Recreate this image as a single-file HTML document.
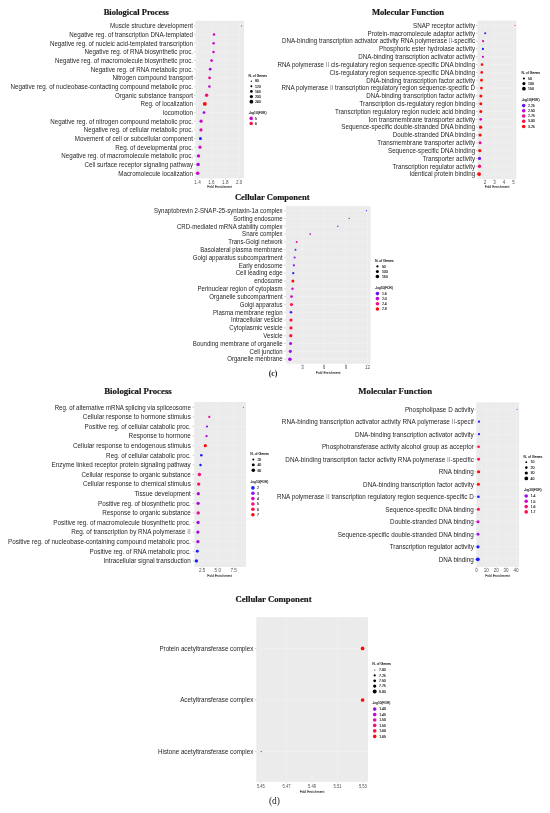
<!DOCTYPE html>
<html lang="en">
<head>
<meta charset="utf-8">
<title>GO enrichment dot plots</title>
<style>
html,body{margin:0;padding:0;background:#fff;}
body{width:550px;height:813px;overflow:hidden;}
svg{display:block;font-family:"Liberation Sans",sans-serif;}
svg .sf{font-family:"Liberation Serif",serif;}
</style>
</head>
<body>
<svg width="550" height="813" viewBox="0 0 550 813">
<rect x="0" y="0" width="550" height="813" fill="#fff"/>
<g>
<text x="136.30" y="14.50" font-size="8.5" text-anchor="middle" fill="#151515" stroke="#151515" stroke-width="0.18" class="sf" font-weight="bold">Biological Process</text>
<rect x="195.5" y="20.8" width="48.50" height="157.60" fill="#ebebeb"/>
<path d="M195.5 25.90H244.0M195.5 34.56H244.0M195.5 43.23H244.0M195.5 51.89H244.0M195.5 60.56H244.0M195.5 69.22H244.0M195.5 77.89H244.0M195.5 86.55H244.0M195.5 95.22H244.0M195.5 103.88H244.0M195.5 112.55H244.0M195.5 121.22H244.0M195.5 129.88H244.0M195.5 138.54H244.0M195.5 147.21H244.0M195.5 155.88H244.0M195.5 164.54H244.0M195.5 173.20H244.0M197.50 20.8V178.4M211.40 20.8V178.4M225.30 20.8V178.4M239.20 20.8V178.4" stroke="#fff" stroke-width="0.4" fill="none" opacity="0.6"/>
<path d="M204.45 20.8V178.4M218.35 20.8V178.4M232.25 20.8V178.4" stroke="#fff" stroke-width="0.22" fill="none" opacity="0.5"/>
<path d="M194.00 25.90H195.5M194.00 34.56H195.5M194.00 43.23H195.5M194.00 51.89H195.5M194.00 60.56H195.5M194.00 69.22H195.5M194.00 77.89H195.5M194.00 86.55H195.5M194.00 95.22H195.5M194.00 103.88H195.5M194.00 112.55H195.5M194.00 121.22H195.5M194.00 129.88H195.5M194.00 138.54H195.5M194.00 147.21H195.5M194.00 155.88H195.5M194.00 164.54H195.5M194.00 173.20H195.5" stroke="#6a6a6a" stroke-width="0.35" fill="none"/>
<path d="M197.50 178.4V179.70M211.40 178.4V179.70M225.30 178.4V179.70M239.20 178.4V179.70" stroke="#888" stroke-width="0.3" fill="none"/>
<text transform="translate(193.00,28.21) scale(0.957,1)" font-size="6.5" text-anchor="end" fill="#262626">Muscle structure development</text>
<circle cx="241.60" cy="25.90" r="0.55" fill="#f41078"/>
<text transform="translate(193.00,36.87) scale(0.957,1)" font-size="6.5" text-anchor="end" fill="#262626">Negative reg. of transcription DNA-templated</text>
<circle cx="214.00" cy="34.56" r="1.25" fill="#cc08c6"/>
<text transform="translate(193.00,45.54) scale(0.957,1)" font-size="6.5" text-anchor="end" fill="#262626">Negative reg. of nucleic acid-templated transcription</text>
<circle cx="213.60" cy="43.23" r="1.25" fill="#cc08c6"/>
<text transform="translate(193.00,54.20) scale(0.957,1)" font-size="6.5" text-anchor="end" fill="#262626">Negative reg. of RNA biosynthetic proc.</text>
<circle cx="213.50" cy="51.89" r="1.25" fill="#cc08c6"/>
<text transform="translate(193.00,62.87) scale(0.957,1)" font-size="6.5" text-anchor="end" fill="#262626">Negative reg. of macromolecule biosynthetic proc.</text>
<circle cx="211.60" cy="60.56" r="1.4" fill="#cc08c6"/>
<text transform="translate(193.00,71.53) scale(0.957,1)" font-size="6.5" text-anchor="end" fill="#262626">Negative reg. of RNA metabolic proc.</text>
<circle cx="210.20" cy="69.22" r="1.4" fill="#a808dc"/>
<text transform="translate(193.00,80.20) scale(0.957,1)" font-size="6.5" text-anchor="end" fill="#262626">Nitrogen compound transport</text>
<circle cx="209.60" cy="77.89" r="1.4" fill="#e40c9c"/>
<text transform="translate(193.00,88.86) scale(0.957,1)" font-size="6.5" text-anchor="end" fill="#262626">Negative reg. of nucleobase-contacting compound metabolic proc.</text>
<circle cx="209.40" cy="86.55" r="1.3" fill="#bc08d2"/>
<text transform="translate(193.00,97.53) scale(0.957,1)" font-size="6.5" text-anchor="end" fill="#262626">Organic substance transport</text>
<circle cx="206.60" cy="95.22" r="1.7" fill="#f41078"/>
<text transform="translate(193.00,106.19) scale(0.957,1)" font-size="6.5" text-anchor="end" fill="#262626">Reg. of localization</text>
<circle cx="204.80" cy="103.88" r="1.95" fill="#ff0a0a"/>
<text transform="translate(193.00,114.86) scale(0.957,1)" font-size="6.5" text-anchor="end" fill="#262626">locomotion</text>
<circle cx="204.00" cy="112.55" r="1.4" fill="#a808dc"/>
<text transform="translate(193.00,123.52) scale(0.957,1)" font-size="6.5" text-anchor="end" fill="#262626">Negative reg. of nitrogen compound metabolic proc.</text>
<circle cx="201.10" cy="121.22" r="1.6" fill="#cc08c6"/>
<text transform="translate(193.00,132.19) scale(0.957,1)" font-size="6.5" text-anchor="end" fill="#262626">Negative reg. of cellular metabolic proc.</text>
<circle cx="201.00" cy="129.88" r="1.6" fill="#d40cb4"/>
<text transform="translate(193.00,140.85) scale(0.957,1)" font-size="6.5" text-anchor="end" fill="#262626">Movement of cell or subcellular component</text>
<circle cx="200.40" cy="138.54" r="1.5" fill="#1a1aff"/>
<text transform="translate(193.00,149.52) scale(0.957,1)" font-size="6.5" text-anchor="end" fill="#262626">Reg. of developmental proc.</text>
<circle cx="200.00" cy="147.21" r="1.6" fill="#cc08c6"/>
<text transform="translate(193.00,158.18) scale(0.957,1)" font-size="6.5" text-anchor="end" fill="#262626">Negative reg. of macromolecule metabolic proc.</text>
<circle cx="198.50" cy="155.88" r="1.7" fill="#cc08c6"/>
<text transform="translate(193.00,166.85) scale(0.957,1)" font-size="6.5" text-anchor="end" fill="#262626">Cell surface receptor signaling pathway</text>
<circle cx="198.10" cy="164.54" r="1.7" fill="#a808dc"/>
<text transform="translate(193.00,175.51) scale(0.957,1)" font-size="6.5" text-anchor="end" fill="#262626">Macromolecule localization</text>
<circle cx="197.70" cy="173.20" r="1.75" fill="#cc08c6"/>
<text transform="translate(197.50,183.97) scale(0.92,1)" font-size="5.0" text-anchor="middle" fill="#505050">1.4</text>
<text transform="translate(211.40,183.97) scale(0.92,1)" font-size="5.0" text-anchor="middle" fill="#505050">1.6</text>
<text transform="translate(225.30,183.97) scale(0.92,1)" font-size="5.0" text-anchor="middle" fill="#505050">1.8</text>
<text transform="translate(239.20,183.97) scale(0.92,1)" font-size="5.0" text-anchor="middle" fill="#505050">2.0</text>
<text x="219.50" y="187.71" font-size="3.4" text-anchor="middle" fill="#1c1c1c" stroke="#1c1c1c" stroke-width="0.05">Fold Enrichment</text>
<text x="248.40" y="76.74" font-size="3.5" text-anchor="start" fill="#1c1c1c" stroke="#1c1c1c" stroke-width="0.12">N. of Genes</text>
<circle cx="251.40" cy="81.20" r="0.65" fill="#000"/>
<text x="254.90" y="82.44" font-size="3.5" text-anchor="start" fill="#1c1c1c" stroke="#1c1c1c" stroke-width="0.12">80</text>
<circle cx="251.40" cy="86.30" r="1.0" fill="#000"/>
<text x="254.90" y="87.54" font-size="3.5" text-anchor="start" fill="#1c1c1c" stroke="#1c1c1c" stroke-width="0.12">120</text>
<circle cx="251.40" cy="91.45" r="1.35" fill="#000"/>
<text x="254.90" y="92.69" font-size="3.5" text-anchor="start" fill="#1c1c1c" stroke="#1c1c1c" stroke-width="0.12">160</text>
<circle cx="251.40" cy="96.60" r="1.6" fill="#000"/>
<text x="254.90" y="97.84" font-size="3.5" text-anchor="start" fill="#1c1c1c" stroke="#1c1c1c" stroke-width="0.12">200</text>
<circle cx="251.40" cy="101.70" r="1.9" fill="#000"/>
<text x="254.90" y="102.94" font-size="3.5" text-anchor="start" fill="#1c1c1c" stroke="#1c1c1c" stroke-width="0.12">240</text>
<text transform="translate(248.70,113.74) scale(0.93,1)" font-size="3.5" text-anchor="start" fill="#1c1c1c" stroke="#1c1c1c" stroke-width="0.12">-log10(FDR)</text>
<circle cx="251.20" cy="118.40" r="1.8" fill="#cc08c6"/>
<text x="254.90" y="119.64" font-size="3.5" text-anchor="start" fill="#1c1c1c" stroke="#1c1c1c" stroke-width="0.12">5</text>
<circle cx="251.20" cy="123.50" r="1.8" fill="#ff1048"/>
<text x="254.90" y="124.74" font-size="3.5" text-anchor="start" fill="#1c1c1c" stroke="#1c1c1c" stroke-width="0.12">6</text>
</g>
<g>
<text x="408.00" y="14.50" font-size="8.55" text-anchor="middle" fill="#151515" stroke="#151515" stroke-width="0.18" class="sf" font-weight="bold">Molecular Function</text>
<rect x="477.5" y="20.6" width="38.90" height="158.40" fill="#ebebeb"/>
<path d="M477.5 25.50H516.4M477.5 33.32H516.4M477.5 41.14H516.4M477.5 48.96H516.4M477.5 56.78H516.4M477.5 64.60H516.4M477.5 72.42H516.4M477.5 80.24H516.4M477.5 88.06H516.4M477.5 95.88H516.4M477.5 103.70H516.4M477.5 111.52H516.4M477.5 119.34H516.4M477.5 127.16H516.4M477.5 134.98H516.4M477.5 142.80H516.4M477.5 150.62H516.4M477.5 158.44H516.4M477.5 166.26H516.4M477.5 174.08H516.4M485.10 20.6V179.0M494.60 20.6V179.0M504.00 20.6V179.0M513.40 20.6V179.0" stroke="#fff" stroke-width="0.4" fill="none" opacity="0.6"/>
<path d="M480.35 20.6V179.0M489.85 20.6V179.0M499.35 20.6V179.0M508.85 20.6V179.0" stroke="#fff" stroke-width="0.22" fill="none" opacity="0.5"/>
<path d="M476.00 25.50H477.5M476.00 33.32H477.5M476.00 41.14H477.5M476.00 48.96H477.5M476.00 56.78H477.5M476.00 64.60H477.5M476.00 72.42H477.5M476.00 80.24H477.5M476.00 88.06H477.5M476.00 95.88H477.5M476.00 103.70H477.5M476.00 111.52H477.5M476.00 119.34H477.5M476.00 127.16H477.5M476.00 134.98H477.5M476.00 142.80H477.5M476.00 150.62H477.5M476.00 158.44H477.5M476.00 166.26H477.5M476.00 174.08H477.5" stroke="#6a6a6a" stroke-width="0.35" fill="none"/>
<path d="M485.10 179.0V180.30M494.60 179.0V180.30M504.00 179.0V180.30M513.40 179.0V180.30" stroke="#888" stroke-width="0.3" fill="none"/>
<text transform="translate(475.10,27.81) scale(0.957,1)" font-size="6.5" text-anchor="end" fill="#262626">SNAP receptor activity</text>
<circle cx="514.90" cy="25.50" r="0.55" fill="#f41078"/>
<text transform="translate(475.10,35.63) scale(0.957,1)" font-size="6.5" text-anchor="end" fill="#262626">Protein-macromolecule adaptor activity</text>
<circle cx="485.20" cy="33.32" r="1.0" fill="#1a1aff"/>
<text transform="translate(475.10,43.45) scale(0.957,1)" font-size="6.5" text-anchor="end" fill="#262626">DNA-binding transcription activator activity RNA polymerase <tspan fill="#7a7a7a">II</tspan>-specific</text>
<circle cx="483.10" cy="41.14" r="1.1" fill="#e40c9c"/>
<text transform="translate(475.10,51.27) scale(0.957,1)" font-size="6.5" text-anchor="end" fill="#262626">Phosphoric ester hydrolase activity</text>
<circle cx="482.90" cy="48.96" r="1.1" fill="#1a1aff"/>
<text transform="translate(475.10,59.09) scale(0.957,1)" font-size="6.5" text-anchor="end" fill="#262626">DNA-binding transcription activator activity</text>
<circle cx="482.90" cy="56.78" r="1.1" fill="#cc08c6"/>
<text transform="translate(475.10,66.91) scale(0.957,1)" font-size="6.5" text-anchor="end" fill="#262626">RNA polymerase <tspan fill="#7a7a7a">II</tspan> cis-regulatory region sequence-specific DNA binding</text>
<circle cx="482.00" cy="64.60" r="1.3" fill="#ff0a0a"/>
<text transform="translate(475.10,74.73) scale(0.957,1)" font-size="6.5" text-anchor="end" fill="#262626">Cis-regulatory region sequence-specific DNA binding</text>
<circle cx="481.70" cy="72.42" r="1.3" fill="#ff0a0a"/>
<text transform="translate(475.10,82.55) scale(0.957,1)" font-size="6.5" text-anchor="end" fill="#262626">DNA-binding transcription factor activity</text>
<circle cx="481.50" cy="80.24" r="1.4" fill="#ff0a0a"/>
<text transform="translate(475.10,90.37) scale(0.957,1)" font-size="6.5" text-anchor="end" fill="#262626">RNA polymerase <tspan fill="#7a7a7a">II</tspan> transcription regulatory region sequence-specific D</text>
<circle cx="481.40" cy="88.06" r="1.4" fill="#ff0a0a"/>
<text transform="translate(475.10,98.19) scale(0.957,1)" font-size="6.5" text-anchor="end" fill="#262626">DNA-binding transcription factor activity</text>
<circle cx="480.90" cy="95.88" r="1.5" fill="#ff0a0a"/>
<text transform="translate(475.10,106.01) scale(0.957,1)" font-size="6.5" text-anchor="end" fill="#262626">Transcription cis-regulatory region binding</text>
<circle cx="480.80" cy="103.70" r="1.5" fill="#ff0a0a"/>
<text transform="translate(475.10,113.83) scale(0.957,1)" font-size="6.5" text-anchor="end" fill="#262626">Transcription regulatory region nucleic acid binding</text>
<circle cx="480.80" cy="111.52" r="1.5" fill="#ff0a0a"/>
<text transform="translate(475.10,121.65) scale(0.957,1)" font-size="6.5" text-anchor="end" fill="#262626">Ion transmembrane transporter activity</text>
<circle cx="480.70" cy="119.34" r="1.3" fill="#cc08c6"/>
<text transform="translate(475.10,129.47) scale(0.957,1)" font-size="6.5" text-anchor="end" fill="#262626">Sequence-specific double-stranded DNA binding</text>
<circle cx="480.60" cy="127.16" r="1.6" fill="#ff0a0a"/>
<text transform="translate(475.10,137.29) scale(0.957,1)" font-size="6.5" text-anchor="end" fill="#262626">Double-stranded DNA binding</text>
<circle cx="480.10" cy="134.98" r="1.6" fill="#ff0a0a"/>
<text transform="translate(475.10,145.11) scale(0.957,1)" font-size="6.5" text-anchor="end" fill="#262626">Transmembrane transporter activity</text>
<circle cx="480.10" cy="142.80" r="1.5" fill="#e40c9c"/>
<text transform="translate(475.10,152.93) scale(0.957,1)" font-size="6.5" text-anchor="end" fill="#262626">Sequence-specific DNA binding</text>
<circle cx="479.80" cy="150.62" r="1.6" fill="#ff0a0a"/>
<text transform="translate(475.10,160.75) scale(0.957,1)" font-size="6.5" text-anchor="end" fill="#262626">Transporter activity</text>
<circle cx="479.50" cy="158.44" r="1.6" fill="#6a14f6"/>
<text transform="translate(475.10,168.57) scale(0.957,1)" font-size="6.5" text-anchor="end" fill="#262626">Transcription regulator activity</text>
<circle cx="479.50" cy="166.26" r="1.7" fill="#f41078"/>
<text transform="translate(475.10,176.39) scale(0.957,1)" font-size="6.5" text-anchor="end" fill="#262626">Identical protein binding</text>
<circle cx="479.10" cy="174.08" r="1.9" fill="#ff0a0a"/>
<text transform="translate(485.10,183.58) scale(0.92,1)" font-size="5.0" text-anchor="middle" fill="#505050">2</text>
<text transform="translate(494.60,183.58) scale(0.92,1)" font-size="5.0" text-anchor="middle" fill="#505050">3</text>
<text transform="translate(504.00,183.58) scale(0.92,1)" font-size="5.0" text-anchor="middle" fill="#505050">4</text>
<text transform="translate(513.40,183.58) scale(0.92,1)" font-size="5.0" text-anchor="middle" fill="#505050">5</text>
<text x="497.00" y="187.91" font-size="3.4" text-anchor="middle" fill="#1c1c1c" stroke="#1c1c1c" stroke-width="0.05">Fold Enrichment</text>
<text x="521.40" y="73.94" font-size="3.5" text-anchor="start" fill="#1c1c1c" stroke="#1c1c1c" stroke-width="0.12">N. of Genes</text>
<circle cx="523.90" cy="78.50" r="1.1" fill="#000"/>
<text x="528.00" y="79.74" font-size="3.5" text-anchor="start" fill="#1c1c1c" stroke="#1c1c1c" stroke-width="0.12">50</text>
<circle cx="523.90" cy="83.60" r="1.55" fill="#000"/>
<text x="528.00" y="84.84" font-size="3.5" text-anchor="start" fill="#1c1c1c" stroke="#1c1c1c" stroke-width="0.12">100</text>
<circle cx="523.90" cy="88.70" r="1.85" fill="#000"/>
<text x="528.00" y="89.94" font-size="3.5" text-anchor="start" fill="#1c1c1c" stroke="#1c1c1c" stroke-width="0.12">150</text>
<text transform="translate(521.70,101.14) scale(0.93,1)" font-size="3.5" text-anchor="start" fill="#1c1c1c" stroke="#1c1c1c" stroke-width="0.12">-log10(FDR)</text>
<circle cx="523.70" cy="105.60" r="1.8" fill="#6a14f6"/>
<text x="528.00" y="106.84" font-size="3.5" text-anchor="start" fill="#1c1c1c" stroke="#1c1c1c" stroke-width="0.12">2.25</text>
<circle cx="523.70" cy="110.80" r="1.8" fill="#bc08d2"/>
<text x="528.00" y="112.04" font-size="3.5" text-anchor="start" fill="#1c1c1c" stroke="#1c1c1c" stroke-width="0.12">2.50</text>
<circle cx="523.70" cy="116.00" r="1.8" fill="#e40c9c"/>
<text x="528.00" y="117.24" font-size="3.5" text-anchor="start" fill="#1c1c1c" stroke="#1c1c1c" stroke-width="0.12">2.75</text>
<circle cx="523.70" cy="121.20" r="1.8" fill="#ff1048"/>
<text x="528.00" y="122.44" font-size="3.5" text-anchor="start" fill="#1c1c1c" stroke="#1c1c1c" stroke-width="0.12">3.00</text>
<circle cx="523.70" cy="126.50" r="1.8" fill="#ff0a0a"/>
<text x="528.00" y="127.74" font-size="3.5" text-anchor="start" fill="#1c1c1c" stroke="#1c1c1c" stroke-width="0.12">3.25</text>
</g>
<g>
<text x="272.20" y="199.80" font-size="8.55" text-anchor="middle" fill="#151515" stroke="#151515" stroke-width="0.18" class="sf" font-weight="bold">Cellular Component</text>
<rect x="285.8" y="206.1" width="84.70" height="157.60" fill="#ebebeb"/>
<path d="M285.8 210.60H370.5M285.8 218.42H370.5M285.8 226.24H370.5M285.8 234.06H370.5M285.8 241.88H370.5M285.8 249.70H370.5M285.8 257.52H370.5M285.8 265.34H370.5M285.8 273.16H370.5M285.8 280.98H370.5M285.8 288.80H370.5M285.8 296.62H370.5M285.8 304.44H370.5M285.8 312.26H370.5M285.8 320.08H370.5M285.8 327.90H370.5M285.8 335.72H370.5M285.8 343.54H370.5M285.8 351.36H370.5M285.8 359.18H370.5M302.40 206.1V363.7M324.10 206.1V363.7M345.90 206.1V363.7M367.60 206.1V363.7" stroke="#fff" stroke-width="0.4" fill="none" opacity="0.6"/>
<path d="M291.55 206.1V363.7M313.25 206.1V363.7M334.95 206.1V363.7M356.65 206.1V363.7" stroke="#fff" stroke-width="0.22" fill="none" opacity="0.5"/>
<path d="M284.30 210.60H285.8M284.30 218.42H285.8M284.30 226.24H285.8M284.30 234.06H285.8M284.30 241.88H285.8M284.30 249.70H285.8M284.30 257.52H285.8M284.30 265.34H285.8M284.30 273.16H285.8M284.30 280.98H285.8M284.30 288.80H285.8M284.30 296.62H285.8M284.30 304.44H285.8M284.30 312.26H285.8M284.30 320.08H285.8M284.30 327.90H285.8M284.30 335.72H285.8M284.30 343.54H285.8M284.30 351.36H285.8M284.30 359.18H285.8" stroke="#6a6a6a" stroke-width="0.35" fill="none"/>
<path d="M302.40 363.7V365.00M324.10 363.7V365.00M345.90 363.7V365.00M367.60 363.7V365.00" stroke="#888" stroke-width="0.3" fill="none"/>
<text transform="translate(282.60,212.87) scale(0.95,1)" font-size="6.4" text-anchor="end" fill="#262626">Synaptobrevin 2-SNAP-25-syntaxin-1a complex</text>
<circle cx="366.50" cy="210.60" r="0.65" fill="#6a14f6"/>
<text transform="translate(282.60,220.69) scale(0.95,1)" font-size="6.4" text-anchor="end" fill="#262626">Sorting endosome</text>
<circle cx="349.20" cy="218.42" r="0.65" fill="#a808dc"/>
<text transform="translate(282.60,228.51) scale(0.95,1)" font-size="6.4" text-anchor="end" fill="#262626">CRD-mediated mRNA stability complex</text>
<circle cx="337.80" cy="226.24" r="0.68" fill="#6a14f6"/>
<text transform="translate(282.60,236.33) scale(0.95,1)" font-size="6.4" text-anchor="end" fill="#262626">Snare complex</text>
<circle cx="310.20" cy="234.06" r="0.85" fill="#cc08c6"/>
<text transform="translate(282.60,244.15) scale(0.95,1)" font-size="6.4" text-anchor="end" fill="#262626">Trans-Golgi network</text>
<circle cx="296.70" cy="241.88" r="1.0" fill="#e40c9c"/>
<text transform="translate(282.60,251.97) scale(0.95,1)" font-size="6.4" text-anchor="end" fill="#262626">Basolateral plasma membrane</text>
<circle cx="295.50" cy="249.70" r="1.0" fill="#6a14f6"/>
<text transform="translate(282.60,259.79) scale(0.95,1)" font-size="6.4" text-anchor="end" fill="#262626">Golgi apparatus subcompartment</text>
<circle cx="294.60" cy="257.52" r="1.05" fill="#9a12e4"/>
<text transform="translate(282.60,267.61) scale(0.95,1)" font-size="6.4" text-anchor="end" fill="#262626">Early endosome</text>
<circle cx="293.90" cy="265.34" r="1.15" fill="#9a12e4"/>
<text transform="translate(282.60,275.43) scale(0.95,1)" font-size="6.4" text-anchor="end" fill="#262626">Cell leading edge</text>
<circle cx="293.20" cy="273.16" r="1.1" fill="#1a1aff"/>
<text transform="translate(282.60,283.25) scale(0.95,1)" font-size="6.4" text-anchor="end" fill="#262626">endosome</text>
<circle cx="292.90" cy="280.98" r="1.5" fill="#ff0a0a"/>
<text transform="translate(282.60,291.07) scale(0.95,1)" font-size="6.4" text-anchor="end" fill="#262626">Perinuclear region of cytoplasm</text>
<circle cx="292.50" cy="288.80" r="1.2" fill="#cc08c6"/>
<text transform="translate(282.60,298.89) scale(0.95,1)" font-size="6.4" text-anchor="end" fill="#262626">Organelle subcompartment</text>
<circle cx="291.50" cy="296.62" r="1.35" fill="#cc08c6"/>
<text transform="translate(282.60,306.71) scale(0.95,1)" font-size="6.4" text-anchor="end" fill="#262626">Golgi apparatus</text>
<circle cx="291.50" cy="304.44" r="1.55" fill="#ff1048"/>
<text transform="translate(282.60,314.53) scale(0.95,1)" font-size="6.4" text-anchor="end" fill="#262626">Plasma membrane region</text>
<circle cx="291.00" cy="312.26" r="1.3" fill="#4a1cff"/>
<text transform="translate(282.60,322.35) scale(0.95,1)" font-size="6.4" text-anchor="end" fill="#262626">Intracellular vesicle</text>
<circle cx="291.00" cy="320.08" r="1.6" fill="#ff1048"/>
<text transform="translate(282.60,330.17) scale(0.95,1)" font-size="6.4" text-anchor="end" fill="#262626">Cytoplasmic vesicle</text>
<circle cx="291.00" cy="327.90" r="1.6" fill="#ff1048"/>
<text transform="translate(282.60,337.99) scale(0.95,1)" font-size="6.4" text-anchor="end" fill="#262626">Vesicle</text>
<circle cx="290.80" cy="335.72" r="1.65" fill="#ff1048"/>
<text transform="translate(282.60,345.81) scale(0.95,1)" font-size="6.4" text-anchor="end" fill="#262626">Bounding membrane of organelle</text>
<circle cx="290.60" cy="343.54" r="1.5" fill="#9a12e4"/>
<text transform="translate(282.60,353.63) scale(0.95,1)" font-size="6.4" text-anchor="end" fill="#262626">Cell junction</text>
<circle cx="290.30" cy="351.36" r="1.55" fill="#9a12e4"/>
<text transform="translate(282.60,361.45) scale(0.95,1)" font-size="6.4" text-anchor="end" fill="#262626">Organelle menbrane</text>
<circle cx="289.90" cy="359.18" r="1.8" fill="#a808dc"/>
<text transform="translate(302.40,369.38) scale(0.92,1)" font-size="5.0" text-anchor="middle" fill="#505050">3</text>
<text transform="translate(324.10,369.38) scale(0.92,1)" font-size="5.0" text-anchor="middle" fill="#505050">6</text>
<text transform="translate(345.90,369.38) scale(0.92,1)" font-size="5.0" text-anchor="middle" fill="#505050">9</text>
<text transform="translate(367.60,369.38) scale(0.92,1)" font-size="5.0" text-anchor="middle" fill="#505050">12</text>
<text x="328.20" y="373.51" font-size="3.4" text-anchor="middle" fill="#1c1c1c" stroke="#1c1c1c" stroke-width="0.05">Fold Enrichment</text>
<text x="374.90" y="262.14" font-size="3.5" text-anchor="start" fill="#1c1c1c" stroke="#1c1c1c" stroke-width="0.12">N. of Genes</text>
<circle cx="377.40" cy="266.40" r="1.1" fill="#000"/>
<text x="381.90" y="267.64" font-size="3.5" text-anchor="start" fill="#1c1c1c" stroke="#1c1c1c" stroke-width="0.12">50</text>
<circle cx="377.40" cy="271.40" r="1.5" fill="#000"/>
<text x="381.90" y="272.64" font-size="3.5" text-anchor="start" fill="#1c1c1c" stroke="#1c1c1c" stroke-width="0.12">100</text>
<circle cx="377.40" cy="276.50" r="1.8" fill="#000"/>
<text x="381.90" y="277.74" font-size="3.5" text-anchor="start" fill="#1c1c1c" stroke="#1c1c1c" stroke-width="0.12">150</text>
<text transform="translate(375.20,288.94) scale(0.93,1)" font-size="3.5" text-anchor="start" fill="#1c1c1c" stroke="#1c1c1c" stroke-width="0.12">-log10(FDR)</text>
<circle cx="377.40" cy="293.60" r="1.8" fill="#6a14f6"/>
<text x="381.90" y="294.84" font-size="3.5" text-anchor="start" fill="#1c1c1c" stroke="#1c1c1c" stroke-width="0.12">1.6</text>
<circle cx="377.40" cy="298.60" r="1.8" fill="#c008cc"/>
<text x="381.90" y="299.84" font-size="3.5" text-anchor="start" fill="#1c1c1c" stroke="#1c1c1c" stroke-width="0.12">2.0</text>
<circle cx="377.40" cy="303.80" r="1.8" fill="#f41078"/>
<text x="381.90" y="305.04" font-size="3.5" text-anchor="start" fill="#1c1c1c" stroke="#1c1c1c" stroke-width="0.12">2.4</text>
<circle cx="377.40" cy="309.00" r="1.8" fill="#ff0a0a"/>
<text x="381.90" y="310.24" font-size="3.5" text-anchor="start" fill="#1c1c1c" stroke="#1c1c1c" stroke-width="0.12">2.8</text>
</g>
<g>
<text x="138.00" y="393.90" font-size="8.8" text-anchor="middle" fill="#151515" stroke="#151515" stroke-width="0.18" class="sf" font-weight="bold">Biological Process</text>
<rect x="194.2" y="402.0" width="51.80" height="165.00" fill="#ebebeb"/>
<path d="M194.2 407.30H246.0M194.2 416.90H246.0M194.2 426.50H246.0M194.2 436.10H246.0M194.2 445.70H246.0M194.2 455.30H246.0M194.2 464.90H246.0M194.2 474.50H246.0M194.2 484.10H246.0M194.2 493.70H246.0M194.2 503.30H246.0M194.2 512.90H246.0M194.2 522.50H246.0M194.2 532.10H246.0M194.2 541.70H246.0M194.2 551.30H246.0M194.2 560.90H246.0M202.10 402.0V567.0M217.80 402.0V567.0M233.60 402.0V567.0" stroke="#fff" stroke-width="0.4" fill="none" opacity="0.6"/>
<path d="M194.25 402.0V567.0M209.95 402.0V567.0M225.65 402.0V567.0M241.35 402.0V567.0" stroke="#fff" stroke-width="0.22" fill="none" opacity="0.5"/>
<path d="M192.70 407.30H194.2M192.70 416.90H194.2M192.70 426.50H194.2M192.70 436.10H194.2M192.70 445.70H194.2M192.70 455.30H194.2M192.70 464.90H194.2M192.70 474.50H194.2M192.70 484.10H194.2M192.70 493.70H194.2M192.70 503.30H194.2M192.70 512.90H194.2M192.70 522.50H194.2M192.70 532.10H194.2M192.70 541.70H194.2M192.70 551.30H194.2M192.70 560.90H194.2" stroke="#6a6a6a" stroke-width="0.35" fill="none"/>
<path d="M202.10 567.0V568.30M217.80 567.0V568.30M233.60 567.0V568.30" stroke="#888" stroke-width="0.3" fill="none"/>
<text transform="translate(190.80,409.65) scale(0.9254189999999999,1)" font-size="6.62" text-anchor="end" fill="#262626">Reg. of alternative mRNA splicing via spliceosome</text>
<circle cx="243.30" cy="407.30" r="0.55" fill="#6a14f6"/>
<text transform="translate(190.80,419.25) scale(0.957,1)" font-size="6.62" text-anchor="end" fill="#262626">Cellular response to hormone stimulus</text>
<circle cx="209.30" cy="416.90" r="1.1" fill="#e40c9c"/>
<text transform="translate(190.80,428.85) scale(0.957,1)" font-size="6.62" text-anchor="end" fill="#262626">Positive reg. of cellular catabolic proc.</text>
<circle cx="207.00" cy="426.50" r="1.1" fill="#7a10f0"/>
<text transform="translate(190.80,438.45) scale(0.957,1)" font-size="6.62" text-anchor="end" fill="#262626">Response to hormone</text>
<circle cx="206.50" cy="436.10" r="1.2" fill="#a808dc"/>
<text transform="translate(190.80,448.05) scale(0.957,1)" font-size="6.62" text-anchor="end" fill="#262626">Cellular response to endogenous stimulus</text>
<circle cx="205.30" cy="445.70" r="1.6" fill="#ff0a0a"/>
<text transform="translate(190.80,457.65) scale(0.957,1)" font-size="6.62" text-anchor="end" fill="#262626">Reg. of cellular catabolic proc.</text>
<circle cx="201.30" cy="455.30" r="1.25" fill="#1a1aff"/>
<text transform="translate(190.80,467.25) scale(0.957,1)" font-size="6.62" text-anchor="end" fill="#262626">Enzyme linked receptor protein signaling pathway</text>
<circle cx="200.50" cy="464.90" r="1.25" fill="#1a1aff"/>
<text transform="translate(190.80,476.85) scale(0.957,1)" font-size="6.62" text-anchor="end" fill="#262626">Cellular response to organic substance</text>
<circle cx="199.40" cy="474.50" r="1.7" fill="#f41078"/>
<text transform="translate(190.80,486.45) scale(0.957,1)" font-size="6.62" text-anchor="end" fill="#262626">Cellular response to chemical stimulus</text>
<circle cx="198.70" cy="484.10" r="1.7" fill="#f80c6c"/>
<text transform="translate(190.80,496.05) scale(0.957,1)" font-size="6.62" text-anchor="end" fill="#262626">Tissue development</text>
<circle cx="198.30" cy="493.70" r="1.65" fill="#a808dc"/>
<text transform="translate(190.80,505.65) scale(0.957,1)" font-size="6.62" text-anchor="end" fill="#262626">Positive reg. of biosynthetic proc.</text>
<circle cx="198.10" cy="503.30" r="1.65" fill="#a808dc"/>
<text transform="translate(190.80,515.25) scale(0.957,1)" font-size="6.62" text-anchor="end" fill="#262626">Response to organic substance</text>
<circle cx="198.20" cy="512.90" r="1.7" fill="#e40c9c"/>
<text transform="translate(190.80,524.85) scale(0.957,1)" font-size="6.62" text-anchor="end" fill="#262626">Positive reg. of macromolecule biosynthetic proc.</text>
<circle cx="198.10" cy="522.50" r="1.65" fill="#a808dc"/>
<text transform="translate(190.80,534.45) scale(0.957,1)" font-size="6.62" text-anchor="end" fill="#262626">Reg. of transcription by RNA polymerase <tspan fill="#7a7a7a">II</tspan></text>
<circle cx="197.90" cy="532.10" r="1.65" fill="#a808dc"/>
<text transform="translate(190.80,544.05) scale(0.957,1)" font-size="6.62" text-anchor="end" fill="#262626">Positive reg. of nucleobase-containing compound metabolic proc.</text>
<circle cx="197.90" cy="541.70" r="1.65" fill="#a808dc"/>
<text transform="translate(190.80,553.65) scale(0.957,1)" font-size="6.62" text-anchor="end" fill="#262626">Positive reg. of RNA metabolic proc.</text>
<circle cx="197.30" cy="551.30" r="1.45" fill="#1a1aff"/>
<text transform="translate(190.80,563.25) scale(0.957,1)" font-size="6.62" text-anchor="end" fill="#262626">Intracellular signal transduction</text>
<circle cx="196.40" cy="560.90" r="1.7" fill="#1a1aff"/>
<text transform="translate(202.10,572.38) scale(0.92,1)" font-size="5.0" text-anchor="middle" fill="#505050">2.5</text>
<text transform="translate(217.80,572.38) scale(0.92,1)" font-size="5.0" text-anchor="middle" fill="#505050">5.0</text>
<text transform="translate(233.60,572.38) scale(0.92,1)" font-size="5.0" text-anchor="middle" fill="#505050">7.5</text>
<text x="219.60" y="576.61" font-size="3.4" text-anchor="middle" fill="#1c1c1c" stroke="#1c1c1c" stroke-width="0.05">Fold Enrichment</text>
<text x="250.20" y="454.94" font-size="3.5" text-anchor="start" fill="#1c1c1c" stroke="#1c1c1c" stroke-width="0.12">N. of Genes</text>
<circle cx="253.30" cy="459.60" r="1.0" fill="#000"/>
<text x="257.40" y="460.84" font-size="3.5" text-anchor="start" fill="#1c1c1c" stroke="#1c1c1c" stroke-width="0.12">20</text>
<circle cx="253.30" cy="464.90" r="1.45" fill="#000"/>
<text x="257.40" y="466.14" font-size="3.5" text-anchor="start" fill="#1c1c1c" stroke="#1c1c1c" stroke-width="0.12">40</text>
<circle cx="253.30" cy="470.30" r="1.8" fill="#000"/>
<text x="257.40" y="471.54" font-size="3.5" text-anchor="start" fill="#1c1c1c" stroke="#1c1c1c" stroke-width="0.12">60</text>
<text transform="translate(250.50,483.24) scale(0.93,1)" font-size="3.5" text-anchor="start" fill="#1c1c1c" stroke="#1c1c1c" stroke-width="0.12">-log10(FDR)</text>
<circle cx="252.90" cy="487.90" r="1.8" fill="#1a1aff"/>
<text x="256.90" y="489.14" font-size="3.5" text-anchor="start" fill="#1c1c1c" stroke="#1c1c1c" stroke-width="0.12">2</text>
<circle cx="252.90" cy="493.30" r="1.8" fill="#9a12e4"/>
<text x="256.90" y="494.54" font-size="3.5" text-anchor="start" fill="#1c1c1c" stroke="#1c1c1c" stroke-width="0.12">3</text>
<circle cx="252.90" cy="498.60" r="1.8" fill="#cc08c6"/>
<text x="256.90" y="499.84" font-size="3.5" text-anchor="start" fill="#1c1c1c" stroke="#1c1c1c" stroke-width="0.12">4</text>
<circle cx="252.90" cy="504.00" r="1.8" fill="#f41078"/>
<text x="256.90" y="505.24" font-size="3.5" text-anchor="start" fill="#1c1c1c" stroke="#1c1c1c" stroke-width="0.12">5</text>
<circle cx="252.90" cy="509.30" r="1.8" fill="#ff1048"/>
<text x="256.90" y="510.54" font-size="3.5" text-anchor="start" fill="#1c1c1c" stroke="#1c1c1c" stroke-width="0.12">6</text>
<circle cx="252.90" cy="514.70" r="1.8" fill="#ff0a0a"/>
<text x="256.90" y="515.94" font-size="3.5" text-anchor="start" fill="#1c1c1c" stroke="#1c1c1c" stroke-width="0.12">7</text>
</g>
<g>
<text x="395.20" y="394.20" font-size="8.72" text-anchor="middle" fill="#151515" stroke="#151515" stroke-width="0.18" class="sf" font-weight="bold">Molecular Function</text>
<rect x="476.1" y="402.3" width="43.00" height="164.60" fill="#ebebeb"/>
<path d="M476.1 409.20H519.1M476.1 421.71H519.1M476.1 434.22H519.1M476.1 446.73H519.1M476.1 459.24H519.1M476.1 471.75H519.1M476.1 484.26H519.1M476.1 496.77H519.1M476.1 509.28H519.1M476.1 521.79H519.1M476.1 534.30H519.1M476.1 546.81H519.1M476.1 559.32H519.1M476.40 402.3V566.9M486.20 402.3V566.9M496.20 402.3V566.9M506.10 402.3V566.9M516.00 402.3V566.9" stroke="#fff" stroke-width="0.4" fill="none" opacity="0.6"/>
<path d="M481.30 402.3V566.9M491.10 402.3V566.9M500.90 402.3V566.9M510.70 402.3V566.9" stroke="#fff" stroke-width="0.22" fill="none" opacity="0.5"/>
<path d="M474.60 409.20H476.1M474.60 421.71H476.1M474.60 434.22H476.1M474.60 446.73H476.1M474.60 459.24H476.1M474.60 471.75H476.1M474.60 484.26H476.1M474.60 496.77H476.1M474.60 509.28H476.1M474.60 521.79H476.1M474.60 534.30H476.1M474.60 546.81H476.1M474.60 559.32H476.1" stroke="#6a6a6a" stroke-width="0.35" fill="none"/>
<path d="M476.40 566.9V568.20M486.20 566.9V568.20M496.20 566.9V568.20M506.10 566.9V568.20M516.00 566.9V568.20" stroke="#888" stroke-width="0.3" fill="none"/>
<text transform="translate(473.80,411.55) scale(0.957,1)" font-size="6.62" text-anchor="end" fill="#262626">Phospholipase D activity</text>
<circle cx="517.00" cy="409.20" r="0.55" fill="#6a14f6"/>
<text transform="translate(473.80,424.06) scale(0.957,1)" font-size="6.62" text-anchor="end" fill="#262626">RNA-binding transcription activator activity RNA polymerase <tspan fill="#7a7a7a">II</tspan>-specif</text>
<circle cx="479.00" cy="421.71" r="1.1" fill="#1a1aff"/>
<text transform="translate(473.80,436.57) scale(0.957,1)" font-size="6.62" text-anchor="end" fill="#262626">DNA-binding transcription activator activity</text>
<circle cx="479.00" cy="434.22" r="1.1" fill="#1a1aff"/>
<text transform="translate(473.80,449.08) scale(0.957,1)" font-size="6.62" text-anchor="end" fill="#262626">Phosphotransferase activity alcohol group as acceptor</text>
<circle cx="478.60" cy="446.73" r="1.35" fill="#ff1048"/>
<text transform="translate(473.80,461.59) scale(0.957,1)" font-size="6.62" text-anchor="end" fill="#262626">DNA-binding transcription factor activity RNA polymerase <tspan fill="#7a7a7a">II</tspan>-specific</text>
<circle cx="478.60" cy="459.24" r="1.4" fill="#ff1048"/>
<text transform="translate(473.80,474.10) scale(0.957,1)" font-size="6.62" text-anchor="end" fill="#262626">RNA binding</text>
<circle cx="478.60" cy="471.75" r="1.6" fill="#ff0a0a"/>
<text transform="translate(473.80,486.61) scale(0.957,1)" font-size="6.62" text-anchor="end" fill="#262626">DNA-binding transcription factor activity</text>
<circle cx="478.40" cy="484.26" r="1.5" fill="#ff0a0a"/>
<text transform="translate(473.80,499.12) scale(0.957,1)" font-size="6.62" text-anchor="end" fill="#262626">RNA polymerase <tspan fill="#7a7a7a">II</tspan> transcription regulatory region sequence-specific D</text>
<circle cx="478.40" cy="496.77" r="1.35" fill="#1a1aff"/>
<text transform="translate(473.80,511.63) scale(0.957,1)" font-size="6.62" text-anchor="end" fill="#262626">Sequence-specific DNA binding</text>
<circle cx="478.40" cy="509.28" r="1.55" fill="#ff1048"/>
<text transform="translate(473.80,524.14) scale(0.957,1)" font-size="6.62" text-anchor="end" fill="#262626">Double-stranded DNA binding</text>
<circle cx="478.00" cy="521.79" r="1.55" fill="#cc08c6"/>
<text transform="translate(473.80,536.65) scale(0.957,1)" font-size="6.62" text-anchor="end" fill="#262626">Sequence-specific double-stranded DNA binding</text>
<circle cx="478.00" cy="534.30" r="1.45" fill="#9a12e4"/>
<text transform="translate(473.80,549.16) scale(0.957,1)" font-size="6.62" text-anchor="end" fill="#262626">Transcription regulator activity</text>
<circle cx="478.00" cy="546.81" r="1.6" fill="#1a1aff"/>
<text transform="translate(473.80,561.67) scale(0.957,1)" font-size="6.62" text-anchor="end" fill="#262626">DNA binding</text>
<circle cx="477.80" cy="559.32" r="1.9" fill="#1a1aff"/>
<text transform="translate(476.40,571.98) scale(0.92,1)" font-size="5.0" text-anchor="middle" fill="#505050">0</text>
<text transform="translate(486.20,571.98) scale(0.92,1)" font-size="5.0" text-anchor="middle" fill="#505050">10</text>
<text transform="translate(496.20,571.98) scale(0.92,1)" font-size="5.0" text-anchor="middle" fill="#505050">20</text>
<text transform="translate(506.10,571.98) scale(0.92,1)" font-size="5.0" text-anchor="middle" fill="#505050">30</text>
<text transform="translate(516.00,571.98) scale(0.92,1)" font-size="5.0" text-anchor="middle" fill="#505050">40</text>
<text x="497.50" y="576.61" font-size="3.4" text-anchor="middle" fill="#1c1c1c" stroke="#1c1c1c" stroke-width="0.05">Fold Enrichment</text>
<text x="523.60" y="457.64" font-size="3.5" text-anchor="start" fill="#1c1c1c" stroke="#1c1c1c" stroke-width="0.12">N. of Genes</text>
<circle cx="526.30" cy="462.20" r="0.9" fill="#000"/>
<text x="530.50" y="463.44" font-size="3.5" text-anchor="start" fill="#1c1c1c" stroke="#1c1c1c" stroke-width="0.12">10</text>
<circle cx="526.30" cy="467.60" r="1.3" fill="#000"/>
<text x="530.50" y="468.84" font-size="3.5" text-anchor="start" fill="#1c1c1c" stroke="#1c1c1c" stroke-width="0.12">20</text>
<circle cx="526.30" cy="473.00" r="1.6" fill="#000"/>
<text x="530.50" y="474.24" font-size="3.5" text-anchor="start" fill="#1c1c1c" stroke="#1c1c1c" stroke-width="0.12">30</text>
<circle cx="526.30" cy="478.40" r="1.85" fill="#000"/>
<text x="530.50" y="479.64" font-size="3.5" text-anchor="start" fill="#1c1c1c" stroke="#1c1c1c" stroke-width="0.12">40</text>
<text transform="translate(523.90,491.14) scale(0.93,1)" font-size="3.5" text-anchor="start" fill="#1c1c1c" stroke="#1c1c1c" stroke-width="0.12">-log10(FDR)</text>
<circle cx="526.20" cy="496.00" r="1.8" fill="#9a12e4"/>
<text x="530.70" y="497.24" font-size="3.5" text-anchor="start" fill="#1c1c1c" stroke="#1c1c1c" stroke-width="0.12">1.4</text>
<circle cx="526.20" cy="501.30" r="1.8" fill="#cc08c6"/>
<text x="530.70" y="502.54" font-size="3.5" text-anchor="start" fill="#1c1c1c" stroke="#1c1c1c" stroke-width="0.12">1.5</text>
<circle cx="526.20" cy="506.60" r="1.8" fill="#f41078"/>
<text x="530.70" y="507.84" font-size="3.5" text-anchor="start" fill="#1c1c1c" stroke="#1c1c1c" stroke-width="0.12">1.6</text>
<circle cx="526.20" cy="511.90" r="1.8" fill="#ff1048"/>
<text x="530.70" y="513.14" font-size="3.5" text-anchor="start" fill="#1c1c1c" stroke="#1c1c1c" stroke-width="0.12">1.7</text>
</g>
<g>
<text x="273.50" y="601.50" font-size="8.73" text-anchor="middle" fill="#151515" stroke="#151515" stroke-width="0.18" class="sf" font-weight="bold">Cellular Component</text>
<rect x="256.3" y="617.2" width="111.70" height="164.60" fill="#ebebeb"/>
<path d="M256.3 648.40H368.0M256.3 700.00H368.0M256.3 751.60H368.0M260.90 617.2V781.8M286.50 617.2V781.8M312.00 617.2V781.8M337.50 617.2V781.8M362.90 617.2V781.8" stroke="#fff" stroke-width="0.4" fill="none" opacity="0.6"/>
<path d="M273.70 617.2V781.8M299.30 617.2V781.8M324.90 617.2V781.8M350.50 617.2V781.8" stroke="#fff" stroke-width="0.22" fill="none" opacity="0.5"/>
<path d="M254.80 648.40H256.3M254.80 700.00H256.3M254.80 751.60H256.3" stroke="#6a6a6a" stroke-width="0.35" fill="none"/>
<path d="M260.90 781.8V783.10M286.50 781.8V783.10M312.00 781.8V783.10M337.50 781.8V783.10M362.90 781.8V783.10" stroke="#888" stroke-width="0.3" fill="none"/>
<text transform="translate(253.30,650.72) scale(0.957,1)" font-size="6.53" text-anchor="end" fill="#262626">Protein acetyltransferase complex</text>
<circle cx="362.60" cy="648.40" r="1.85" fill="#ff0a0a"/>
<text transform="translate(253.30,702.32) scale(0.957,1)" font-size="6.53" text-anchor="end" fill="#262626">Acetyltransferase complex</text>
<circle cx="362.60" cy="700.00" r="1.85" fill="#ff0a0a"/>
<text transform="translate(253.30,753.92) scale(0.957,1)" font-size="6.53" text-anchor="end" fill="#262626">Histone acetyltransferase complex</text>
<circle cx="261.20" cy="751.60" r="0.55" fill="#1a1aff"/>
<text transform="translate(260.90,788.00) scale(0.92,1)" font-size="4.5" text-anchor="middle" fill="#505050">5.45</text>
<text transform="translate(286.50,788.00) scale(0.92,1)" font-size="4.5" text-anchor="middle" fill="#505050">5.47</text>
<text transform="translate(312.00,788.00) scale(0.92,1)" font-size="4.5" text-anchor="middle" fill="#505050">5.49</text>
<text transform="translate(337.50,788.00) scale(0.92,1)" font-size="4.5" text-anchor="middle" fill="#505050">5.51</text>
<text transform="translate(362.90,788.00) scale(0.92,1)" font-size="4.5" text-anchor="middle" fill="#505050">5.53</text>
<text x="312.00" y="792.61" font-size="3.4" text-anchor="middle" fill="#1c1c1c" stroke="#1c1c1c" stroke-width="0.05">Fold Enrichment</text>
<text x="372.20" y="665.14" font-size="3.5" text-anchor="start" fill="#1c1c1c" stroke="#1c1c1c" stroke-width="0.12">N. of Genes</text>
<circle cx="374.70" cy="670.00" r="0.6" fill="#000"/>
<text x="379.00" y="671.24" font-size="3.5" text-anchor="start" fill="#1c1c1c" stroke="#1c1c1c" stroke-width="0.12">7.00</text>
<circle cx="374.70" cy="675.40" r="1.05" fill="#000"/>
<text x="379.00" y="676.64" font-size="3.5" text-anchor="start" fill="#1c1c1c" stroke="#1c1c1c" stroke-width="0.12">7.25</text>
<circle cx="374.70" cy="680.80" r="1.4" fill="#000"/>
<text x="379.00" y="682.04" font-size="3.5" text-anchor="start" fill="#1c1c1c" stroke="#1c1c1c" stroke-width="0.12">7.50</text>
<circle cx="374.70" cy="686.10" r="1.65" fill="#000"/>
<text x="379.00" y="687.34" font-size="3.5" text-anchor="start" fill="#1c1c1c" stroke="#1c1c1c" stroke-width="0.12">7.75</text>
<circle cx="374.70" cy="691.50" r="1.95" fill="#000"/>
<text x="379.00" y="692.74" font-size="3.5" text-anchor="start" fill="#1c1c1c" stroke="#1c1c1c" stroke-width="0.12">8.00</text>
<text transform="translate(372.50,704.44) scale(0.93,1)" font-size="3.5" text-anchor="start" fill="#1c1c1c" stroke="#1c1c1c" stroke-width="0.12">-log10(FDR)</text>
<circle cx="374.70" cy="709.10" r="1.8" fill="#9a12e4"/>
<text x="379.20" y="710.34" font-size="3.5" text-anchor="start" fill="#1c1c1c" stroke="#1c1c1c" stroke-width="0.12">1.40</text>
<circle cx="374.70" cy="714.60" r="1.8" fill="#bc08d2"/>
<text x="379.20" y="715.84" font-size="3.5" text-anchor="start" fill="#1c1c1c" stroke="#1c1c1c" stroke-width="0.12">1.45</text>
<circle cx="374.70" cy="720.00" r="1.8" fill="#e40c9c"/>
<text x="379.20" y="721.24" font-size="3.5" text-anchor="start" fill="#1c1c1c" stroke="#1c1c1c" stroke-width="0.12">1.50</text>
<circle cx="374.70" cy="725.40" r="1.8" fill="#f41078"/>
<text x="379.20" y="726.64" font-size="3.5" text-anchor="start" fill="#1c1c1c" stroke="#1c1c1c" stroke-width="0.12">1.55</text>
<circle cx="374.70" cy="730.90" r="1.8" fill="#ff1048"/>
<text x="379.20" y="732.14" font-size="3.5" text-anchor="start" fill="#1c1c1c" stroke="#1c1c1c" stroke-width="0.12">1.60</text>
<circle cx="374.70" cy="736.40" r="1.8" fill="#ff0a0a"/>
<text x="379.20" y="737.64" font-size="3.5" text-anchor="start" fill="#1c1c1c" stroke="#1c1c1c" stroke-width="0.12">1.65</text>
</g>
<text transform="translate(273.0,375.6) scale(0.9,1)" font-size="8.7" text-anchor="middle" fill="#1a1a1a" class="sf" font-weight="bold">(c)</text>
<text x="274.4" y="804.1" font-size="9.4" text-anchor="middle" fill="#222" class="sf">(d)</text>
</svg>
</body>
</html>
